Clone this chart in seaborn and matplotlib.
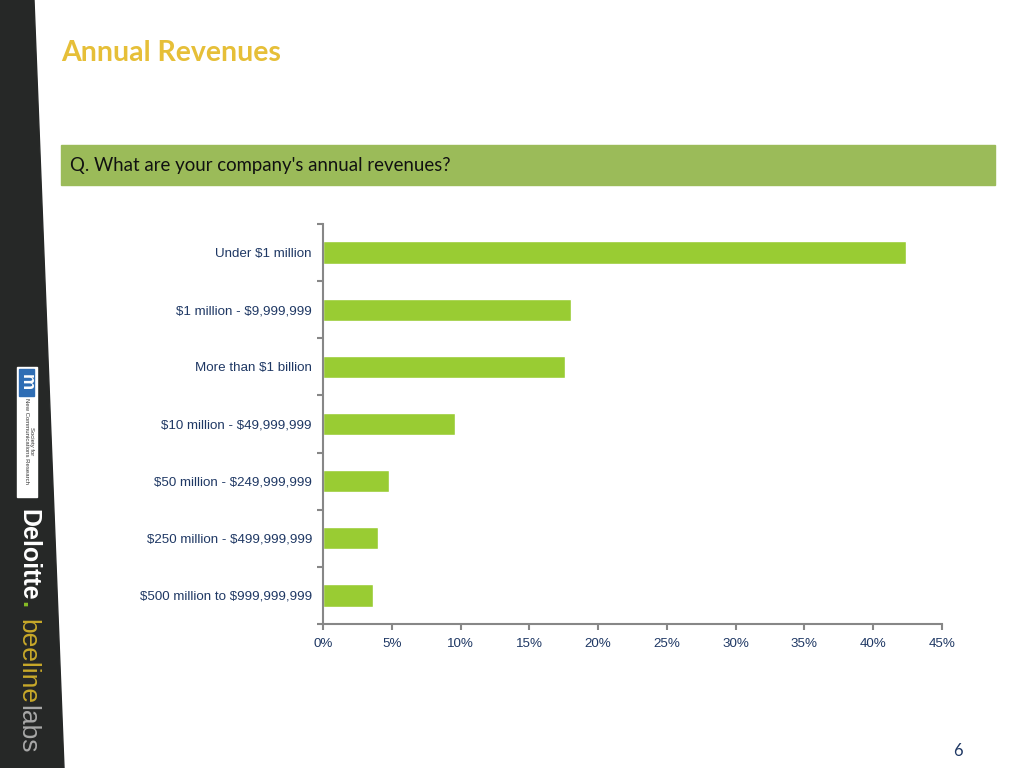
import matplotlib
matplotlib.use("Agg")
import matplotlib.pyplot as plt
import matplotlib.patches as mpatches
import seaborn as sns
import pandas as pd

# survey answers, percent of respondents
categories = [
    "Under $1 million",
    "$1 million - $9,999,999",
    "More than $1 billion",
    "$10 million - $49,999,999",
    "$50 million - $249,999,999",
    "$250 million - $499,999,999",
    "$500 million to $999,999,999",
]
percents = [42.4, 18.0, 17.6, 9.6, 4.8, 4.0, 3.6]
x_ticks = [0, 5, 10, 15, 20, 25, 30, 35, 40, 45]

title = "Annual Revenues"
question = "Q. What are your company's annual revenues?"
page_no = "6"

BAR_GREEN = "#99CC33"
BANNER_GREEN = "#9BBB59"
TITLE_GOLD = "#E6BF38"
NAVY = "#1F3864"
AXIS_GREY = "#878787"
SIDEBAR = "#262827"

sns.set_theme(style="white")
plt.rcParams["font.family"] = ["Liberation Sans", "DejaVu Sans"]
plt.rcParams["text.parse_math"] = False

df = pd.DataFrame({"category": categories, "percent": percents})

fig = plt.figure(figsize=(10.24, 7.68), dpi=100)
W, H = 1024, 768

# --- slide decoration (pixel coords -> figure fraction) ---
def fx(px):
    return px / W

def fy(py):
    return 1 - py / H

sidebar = mpatches.Polygon(
    [(0, 1), (fx(34), 1), (fx(64), 0), (0, 0)],
    closed=True, transform=fig.transFigure, color=SIDEBAR, zorder=0)
fig.patches.append(sidebar)

# SNCR logo box
fig.patches.append(mpatches.Rectangle(
    (fx(17), fy(497)), fx(20), fy(367) - fy(497),
    transform=fig.transFigure, color="white", zorder=1))
fig.patches.append(mpatches.Rectangle(
    (fx(19), fy(396)), fx(15), fy(369) - fy(396),
    transform=fig.transFigure, color="#2E6DB4", zorder=2))
fig.text(fx(26.5), fy(382), "m", color="white", fontsize=13, fontweight="bold",
         rotation=-90, ha="center", va="center", zorder=3)
fig.text(fx(29), fy(398), "Society for\nNew Communications Research",
         color="#333333", fontsize=4.3, rotation=-90, ha="center", va="top",
         linespacing=1.0, zorder=3)

fig.text(fx(28), fy(509), "Deloitte", color="white", fontsize=18,
         fontweight="bold", rotation=-90, ha="center", va="top")
fig.text(fx(28), fy(601), ".", color="#86BC25", fontsize=18,
         fontweight="bold", rotation=-90, ha="center", va="top")
fig.text(fx(27), fy(619), "beeline", color="#C8A92A", fontsize=19,
         rotation=-90, ha="center", va="top")
fig.text(fx(27), fy(705), "labs", color="#A8A8A8", fontsize=19,
         rotation=-90, ha="center", va="top")

fig.text(fx(61), fy(53), title, color=TITLE_GOLD, fontsize=20.5,
         fontweight="bold", ha="left", va="center",
         family=["Lato", "DejaVu Sans"])

fig.patches.append(mpatches.Rectangle(
    (fx(61), fy(185)), fx(995) - fx(61), fy(145) - fy(185),
    transform=fig.transFigure, color=BANNER_GREEN, zorder=1))
fig.text(fx(70), fy(166), question, color="#111111", fontsize=13.4,
         ha="left", va="center", family=["Lato", "DejaVu Sans"], zorder=2)

fig.text(fx(958), fy(751), page_no, color=NAVY, fontsize=12,
         ha="center", va="center", family=["Lato", "DejaVu Sans"])

# --- chart ---
ax = fig.add_axes([fx(323), fy(624), fx(942) - fx(323), fy(224) - fy(624)])
sns.barplot(data=df, x="percent", y="category", orient="h",
            color=BAR_GREEN, width=0.39, saturation=1, ax=ax)

ax.set_xlim(0, 45)
ax.set_ylim(len(categories) - 0.5, -0.5)
ax.set_xticks(x_ticks)
ax.set_xticklabels([f"{t}%" for t in x_ticks])
ax.set_xlabel("")
ax.set_ylabel("")
ax.set_facecolor("none")

for side in ["top", "right"]:
    ax.spines[side].set_visible(False)
for side in ["left", "bottom"]:
    ax.spines[side].set_color(AXIS_GREY)
    ax.spines[side].set_linewidth(1.5)

# y ticks sit between the categories
ax.set_yticks([i - 0.5 for i in range(len(categories) + 1)], minor=True)
ax.tick_params(axis="y", which="major", length=0, pad=8,
               labelsize=9.6, labelcolor=NAVY)
ax.tick_params(axis="y", which="minor", left=True, length=4,
               width=1.5, color=AXIS_GREY)
ax.tick_params(axis="x", which="major", bottom=True, length=4, width=1.5,
               color=AXIS_GREY, labelsize=9.6, labelcolor=NAVY, pad=6)

fig.savefig("out.png", dpi=100, facecolor="white")
